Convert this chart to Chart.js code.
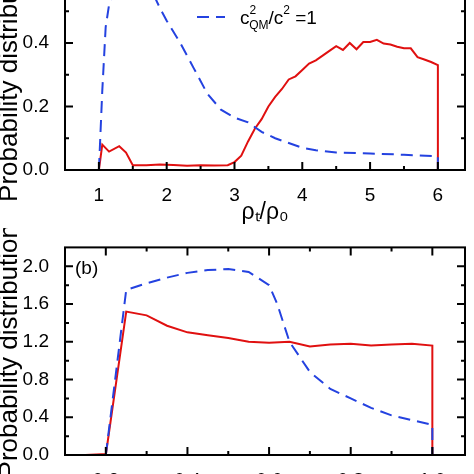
<!DOCTYPE html><html><head><script src="https://cdn.jsdelivr.net/npm/chart.js@4"></script>
<style>body{margin:0;width:474px;height:474px;overflow:hidden;background:#fff;position:relative}canvas{position:absolute}</style></head><body>
<div id="w1" style="position:absolute;left:-10px;top:-40px;width:484px;height:270px"><canvas id="c1"></canvas></div>
<div id="w2" style="position:absolute;left:-10px;top:228px;width:484px;height:262px"><canvas id="c2"></canvas></div>
<script>
const topRedX=[1.0,1.05,1.15,1.3,1.4,1.5,1.7,1.9,2.1,2.3,2.5,2.7,2.9,3.0,3.1,3.2,3.3,3.4,3.5,3.6,3.7,3.8,3.9,4.0,4.1,4.2,4.3,4.4,4.5,4.6,4.7,4.8,4.9,5.0,5.1,5.2,5.3,5.4,5.5,5.6,5.7,5.8,5.9,6.0,6.0];
const topRedY=[0,0.08,0.058,0.075,0.055,0.015,0.015,0.017,0.016,0.013,0.015,0.014,0.015,0.025,0.045,0.09,0.13,0.16,0.2,0.23,0.255,0.285,0.295,0.315,0.335,0.345,0.36,0.375,0.39,0.378,0.4,0.38,0.403,0.403,0.41,0.398,0.395,0.388,0.383,0.383,0.355,0.348,0.34,0.33,0];
const topBlueX=[1.0,1.05,1.1,1.15,1.3,1.5,1.7,1.9,2.0,2.2,2.4,2.6,2.8,3.0,3.2,3.4,3.6,3.8,4.0,4.2,4.5,5.0,5.5,6.0,6.0];
const topBlueY=[0,0.25,0.45,0.52,0.6,0.64,0.6,0.51,0.47,0.4,0.32,0.24,0.19,0.165,0.15,0.12,0.1,0.085,0.07,0.062,0.055,0.052,0.048,0.043,0];
const botRedX=[0.15,0.2,0.2,0.25,0.3,0.35,0.4,0.45,0.5,0.55,0.6,0.65,0.7,0.75,0.8,0.85,0.9,0.95,1.0,1.0];
const botRedY=[0,0.01,0,1.52,1.48,1.37,1.3,1.27,1.24,1.2,1.19,1.2,1.15,1.17,1.18,1.16,1.17,1.18,1.16,0];
const botBlueX=[0.2,0.25,0.3,0.35,0.4,0.45,0.5,0.55,0.6,0.62,0.65,0.7,0.75,0.8,0.85,0.9,0.95,1.0,1.0];
const botBlueY=[0,1.75,1.82,1.88,1.93,1.96,1.97,1.94,1.8,1.6,1.2,0.88,0.7,0.6,0.5,0.42,0.37,0.32,0];
const legendText=['c','2','QM','/c','2',' =1'];
const panelLabel='(b)';
const F='"Liberation Sans", Arial, sans-serif';
const pts=(xs,ys)=>xs.map((x,i)=>({x,y:ys[i]}));
function ticksPlugin(xMaj,xMin,yMaj,yMin,extra){return{id:'tk',afterDraw(ch){const c=ch.ctx,a=ch.chartArea,sx=ch.scales.x,sy=ch.scales.y;c.save();c.strokeStyle='#000';c.lineWidth=2;
c.strokeRect(a.left,a.top,a.right-a.left,a.bottom-a.top);
const dx=(v,L)=>{const p=sx.getPixelForValue(v);c.beginPath();c.moveTo(p,a.bottom);c.lineTo(p,a.bottom-L);c.moveTo(p,a.top);c.lineTo(p,a.top+L);c.stroke();};
const dy=(v,L)=>{const p=sy.getPixelForValue(v);c.beginPath();c.moveTo(a.left,p);c.lineTo(a.left+L,p);c.moveTo(a.right,p);c.lineTo(a.right-L,p);c.stroke();};
xMaj.forEach(v=>dx(v,8));xMin.forEach(v=>dx(v,4));yMaj.forEach(v=>dy(v,8));yMin.forEach(v=>dy(v,4));
if(extra)extra(c,a);c.restore();}}}
function mk(id,xr,yr,xstep,ystep,dsets,xTitle,yTitle,xh,padTop,plugin,dec){
return new Chart(document.getElementById(id),{type:'line',data:{datasets:dsets},options:{responsive:true,maintainAspectRatio:false,animation:false,
layout:{padding:{top:padTop,right:9,left:0,bottom:0}},plugins:{legend:{display:false},tooltip:{enabled:false}},
elements:{point:{radius:0},line:{tension:0,borderWidth:2}},
scales:{x:{type:'linear',min:xr[0],max:xr[1],afterFit(s){s.height=xh;},afterBuildTicks(s){s.ticks=xstep.map(v=>({value:v}));},
grid:{display:false},border:{display:false},ticks:{color:'#000',font:{family:F,size:19},padding:6,maxRotation:0,callback:v=>dec[0]?v.toFixed(1):String(v)},
title:{display:!!xTitle,text:xTitle,color:'#000',font:{family:F,size:23},padding:{top:0}}},
y:{min:yr[0],max:yr[1],afterFit(s){s.width=75;},afterBuildTicks(s){s.ticks=ystep.map(v=>({value:v}));},
grid:{display:false},border:{display:false},ticks:{color:'#000',font:{family:F,size:19},padding:8,callback:v=>v.toFixed(1)},
title:{display:true,text:yTitle,color:'#000',font:{family:F,size:26},padding:{bottom:0}}}}},plugins:[plugin]});}
mk('c1',[0.5,6.4],[0,0.6],[1,2,3,4,5,6],[0,0.2,0.4],[
{data:pts(topBlueX,topBlueY),borderColor:'#2442e0',borderDash:[12,7]},
{data:pts(topRedX,topRedY),borderColor:'#e01010'}],'ρₜ/ρ₀','Probability distribution',60,0,
ticksPlugin([1,2,3,4,5,6],[0.5,1.5,2.5,3.5,4.5,5.5],[0,0.2,0.4],[0.1,0.3,0.5]),[false]);
mk('c2',[0.1,1.08],[0,2.2],[0.2,0.4,0.6,0.8,1.0],[0,0.4,0.8,1.2,1.6,2.0],[
{data:pts(botBlueX,botBlueY),borderColor:'#2442e0',borderDash:[12,7]},
{data:pts(botRedX,botRedY),borderColor:'#e01010'}],'','Probability distribution',35,0,
ticksPlugin([0.2,0.4,0.6,0.8,1.0],[0.3,0.5,0.7,0.9],[0,0.4,0.8,1.2,1.6,2.0],[0.2,0.6,1.0,1.4,1.8],(c,a)=>{
c.fillStyle='#000';c.font='19px '+F;c.textBaseline='middle';c.fillText(panelLabel,a.left+10,a.top+21);}),[true]);
const ch1=Chart.getChart('c1');
ch1.config.plugins.push({id:'lg',afterDraw(ch){const c=ch.ctx;c.save();c.strokeStyle='#2442e0';c.lineWidth=2;c.setLineDash([12,7]);
c.beginPath();c.moveTo(207,57);c.lineTo(235,57);c.stroke();c.fillStyle='#000';c.textBaseline='alphabetic';
let x=250;const base=64;const parts=[[legendText[0],19,0],[legendText[1],12,-10],[legendText[2],12,5],[legendText[3],19,0],[legendText[4],12,-10],[legendText[5],19,0]];
parts.forEach((p,i)=>{c.font=p[1]+'px '+F;if(i==2){c.fillText(p[0],x-7,base+p[2]);x+=c.measureText(p[0]).width-7;}else{c.fillText(p[0],x,base+p[2]);x+=c.measureText(p[0]).width;}});
c.restore();}});
ch1.update();
</script></body></html>
